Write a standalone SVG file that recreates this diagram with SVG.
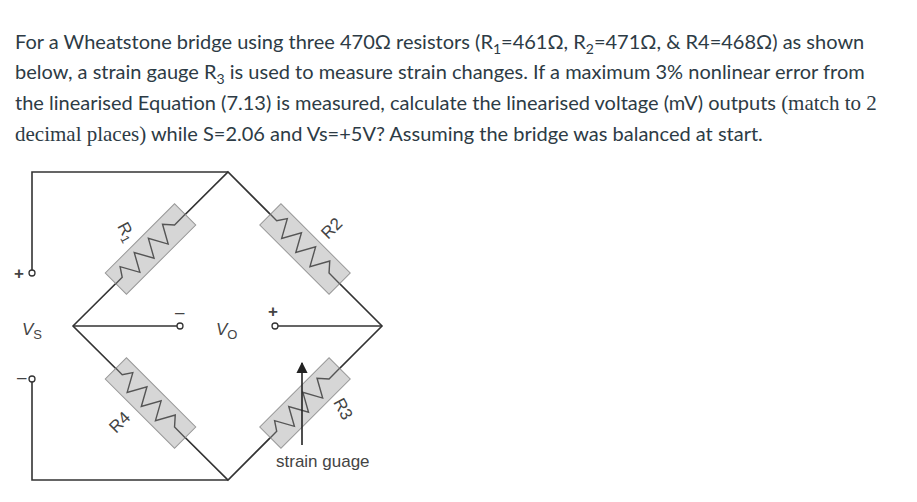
<svg xmlns="http://www.w3.org/2000/svg" width="917" height="502" viewBox="0 0 917 502">
<style>
.q{font-family:Lato,"Liberation Sans",sans-serif;font-size:20px;fill:#2d3b45}
.s{font-family:"Liberation Serif",serif;font-size:21px}
.w{stroke:#333;stroke-width:1.6;fill:none}
.box{fill:#d6d6d6;stroke:#999;stroke-width:1}
.z{fill:none;stroke:#555;stroke-width:1.4}
.lb{font-family:"Liberation Sans",sans-serif;font-size:17px;fill:#444}
.t{fill:#fff;stroke:#333;stroke-width:1.3}
</style>
<defs>
<g id="res"><rect class="box" x="-49" y="-15" width="98" height="30"/><path class="z" d="M-49,0 L-40,0 L-34,-9 L-24,9 L-14,-9 L-4,9 L6,-9 L16,9 L26,-9 L34,0 L49,0"/></g>
<marker id="ah" viewBox="0 0 10 10" refX="9" refY="5" markerWidth="7" markerHeight="8" orient="auto"><path d="M0,0 L10,5 L0,10 z" fill="#222"/></marker>
</defs>
<g id="question">
<text class="q" x="15" y="49">For a Wheatstone bridge using three 470Ω resistors (R<tspan font-size="14" dy="5">1</tspan><tspan dy="-5">=461Ω, R</tspan><tspan font-size="14" dy="5">2</tspan><tspan dy="-5">=471Ω, &amp; R4=468Ω) as shown</tspan></text>
<text class="q" x="15" y="79">below, a strain gauge R<tspan font-size="14" dy="5">3</tspan><tspan dy="-5">  is used to measure strain changes. If a maximum 3% nonlinear error from</tspan></text>
<text class="q" x="15" y="110">the linearised Equation (7.13) is measured, calculate the linearised voltage (mV) outputs <tspan class="s">(match to 2</tspan></text>
<text class="q" x="15" y="141"><tspan class="s">decimal places)</tspan> while S=2.06 and Vs=+5V? Assuming the bridge was balanced at start.</text>
</g>
<g id="connectors">
<path class="w" d="M73,326 L228,172 L382,326 L228,480 Z"/>
<path class="w" d="M32,270 L32,172 L228,172 M32,382 L32,480 L228,480"/>
<path class="w" d="M73,326 L177,326 M278,326 L382,326"/>
</g>
<g id="R1"><use href="#res" transform="translate(150.5,249) rotate(-45)"/><text class="lb" transform="translate(117,226) rotate(62)">R<tspan font-size="12" dy="3">1</tspan></text></g>
<g id="R2"><use href="#res" transform="translate(305,249) rotate(45)"/><text class="lb" transform="translate(328,240) rotate(-45)">R2</text></g>
<g id="R4"><use href="#res" transform="translate(150.5,403) rotate(45)"/><text class="lb" transform="translate(116,434) rotate(-45)">R4</text></g>
<g id="R3"><use href="#res" transform="translate(305,403) rotate(-45)"/><text class="lb" transform="translate(333,402) rotate(62)">R3</text><text class="lb" x="276" y="467">strain guage</text>
<line x1="302" y1="445" x2="302" y2="363" stroke="#222" stroke-width="1.6" marker-end="url(#ah)"/></g>
<g id="terminals">
<circle class="t" cx="32" cy="273" r="3"/><circle class="t" cx="32" cy="379" r="3"/>
<circle class="t" cx="180" cy="326" r="3"/><circle class="t" cx="275" cy="326" r="3"/>
<text class="lb" x="14" y="279" font-weight="bold" font-size="14">+</text>
<text class="lb" x="17" y="383" font-size="14">–</text>
<text class="lb" x="175" y="318" font-size="12">–</text>
<text class="lb" x="268" y="317" font-weight="bold" font-size="12">+</text>
<text class="lb" x="22" y="335" font-size="17" font-style="italic">V<tspan font-style="normal" font-size="13" dy="4">S</tspan></text>
<text class="lb" x="216" y="335" font-size="17" font-style="italic">V<tspan font-style="normal" font-size="13" dy="4">O</tspan></text>
</g>
</svg>
